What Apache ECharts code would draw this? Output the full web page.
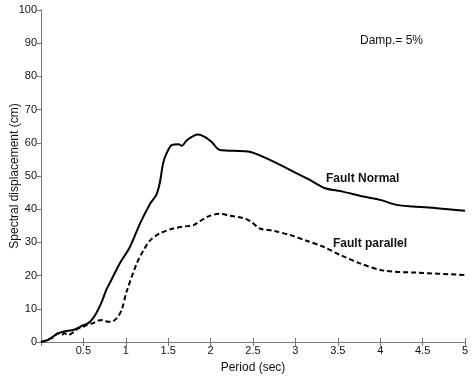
<!DOCTYPE html>
<html>
<head>
<meta charset="utf-8">
<script src="https://cdn.jsdelivr.net/npm/echarts@6/dist/echarts.min.js"></script>
<style>
  html, body { margin: 0; padding: 0; background: #fff; }
  #chart { width: 474px; height: 376px; }
</style>
</head>
<body>
<div id="chart"></div>
<script>
// period (sec), spectral displacement (cm)
const faultNormal = [
    [0, 0], [0.08, 0.6], [0.14, 1.6], [0.2, 2.6], [0.26, 3.1], [0.32, 3.4],
    [0.38, 3.6], [0.44, 4.3], [0.5, 5.1], [0.55, 5.6], [0.59, 6.4], [0.65, 8.6],
    [0.71, 11.7], [0.77, 15.7], [0.81, 17.7], [0.93, 23.7], [1.05, 28.7],
    [1.17, 35.8], [1.29, 41.8], [1.36, 44.3], [1.40, 47.8], [1.44, 53.8],
    [1.48, 56.8], [1.54, 59.3], [1.62, 59.6], [1.66, 59.1], [1.72, 60.8],
    [1.80, 62.1], [1.85, 62.5], [1.93, 61.8], [2.01, 60.3], [2.11, 57.8],
    [2.27, 57.6], [2.46, 57.3], [2.66, 55.3], [2.94, 51.8], [3.17, 48.8],
    [3.35, 46.3], [3.49, 45.6], [3.56, 45.3], [3.80, 43.8], [4.0, 42.8],
    [4.19, 41.3], [4.39, 40.8], [4.67, 40.3], [5.0, 39.5],
];

const faultParallel = [
    [0, 0], [0.14, 1.3], [0.2, 2.6], [0.24, 2.1], [0.28, 2.6], [0.32, 2.1],
    [0.38, 2.9], [0.44, 4.1], [0.5, 4.6], [0.55, 5.3], [0.61, 5.6], [0.67, 6.4],
    [0.73, 6.6], [0.79, 6.1], [0.83, 6.1], [0.89, 7.1], [0.95, 9.6],
    [1.01, 15.2], [1.13, 23.7], [1.21, 27.7], [1.29, 30.7], [1.40, 32.7],
    [1.56, 34.2], [1.72, 34.9], [1.80, 35.2], [1.88, 36.5], [1.99, 38.0],
    [2.11, 38.6], [2.23, 38.0], [2.39, 37.3], [2.48, 36.2], [2.58, 34.2],
    [2.74, 33.5], [2.94, 32.2], [3.13, 30.5], [3.33, 28.7], [3.53, 26.2],
    [3.76, 23.7], [4.04, 21.5], [4.43, 20.9], [5.0, 20.2],
];

const seriesNames = ['Fault Normal', 'Fault parallel'];
const dampText = 'Damp.= 5%';
const xName = 'Period (sec)';
const yName = 'Spectral displacement (cm)';

const FONT = '"Liberation Sans", Arial, sans-serif';
const AXIS_COLOR = '#777';

const chart = echarts.init(document.getElementById('chart'));

chart.setOption({
    animation: false,
    grid: {left: 41, right: 9, top: 10, bottom: 34, containLabel: false, outerBoundsMode: 'none'},
    xAxis: [
        {
            type: 'value', min: 0, max: 5, interval: 0.5,
            name: xName, nameLocation: 'middle', nameGap: 20, nameMoveOverlap: false,
            nameTextStyle: {color: '#111', fontSize: 12, fontFamily: FONT},
            axisLine: {lineStyle: {color: AXIS_COLOR}},
            axisTick: {inside: true, length: 4, lineStyle: {color: AXIS_COLOR}},
            axisLabel: {
                color: '#111', fontSize: 11, fontFamily: FONT, margin: 3,
                formatter: (v) => (v === 0 ? '' : String(v)),
            },
            splitLine: {show: false},
        },
        {
            type: 'value', min: 0, max: 5, interval: 0.5, position: 'top',
            axisLine: {lineStyle: {color: AXIS_COLOR}},
            axisTick: {inside: true, length: 4, lineStyle: {color: AXIS_COLOR}},
            axisLabel: {show: false},
            splitLine: {show: false},
        },
    ],
    yAxis: [
        {
            type: 'value', min: 0, max: 100, interval: 10,
            name: yName, nameLocation: 'middle', nameGap: 20, nameMoveOverlap: false,
            nameTextStyle: {color: '#111', fontSize: 12, fontFamily: FONT},
            axisLine: {show: true, lineStyle: {color: AXIS_COLOR}},
            axisTick: {show: true, length: 3, lineStyle: {color: AXIS_COLOR}},
            axisLabel: {color: '#111', fontSize: 11, fontFamily: FONT, margin: 4},
            splitLine: {show: false},
        },
        {
            type: 'value', min: 0, max: 100, interval: 10, position: 'right',
            axisLine: {show: true, lineStyle: {color: AXIS_COLOR}},
            axisTick: {show: true, inside: true, length: 4, lineStyle: {color: AXIS_COLOR}},
            axisLabel: {show: false},
            splitLine: {show: false},
        },
    ],
    graphic: [
        {type: 'text', left: 360, top: 35,
            style: {text: dampText, fill: '#111', font: '12px ' + FONT}},
        {type: 'text', left: 326, top: 173,
            style: {text: seriesNames[0], fill: '#111', font: 'bold 12px ' + FONT}},
        {type: 'text', left: 333, top: 238,
            style: {text: seriesNames[1], fill: '#111', font: 'bold 12px ' + FONT}},
    ],
    series: [
        {
            name: seriesNames[0], type: 'line', data: faultNormal,
            showSymbol: false, smooth: 0.3,
            lineStyle: {color: '#000', width: 2},
        },
        {
            name: seriesNames[1], type: 'line', data: faultParallel,
            showSymbol: false, smooth: 0.3,
            lineStyle: {color: '#000', width: 2, type: [5, 3]},
        },
    ],
});
</script>
</body>
</html>
